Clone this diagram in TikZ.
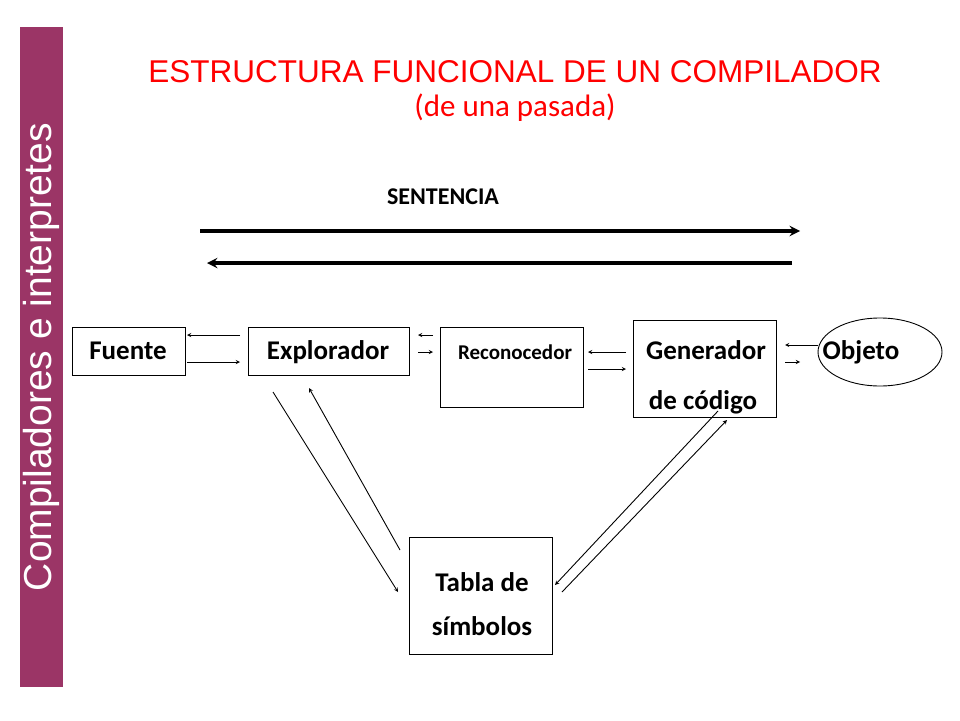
\documentclass[tikz,border=0pt]{standalone}
\usepackage{fontspec}
\setmainfont{Carlito}
\newfontfamily\arialfont{Liberation Sans}
\begin{document}
\begin{tikzpicture}[x=1pt,y=-1pt,
	box/.style={draw,line width=0.9pt},
	lbl/.style={anchor=base,font=\fontsize{27}{30}\selectfont\bfseries},
	arr/.style={->,>=stealth,line width=0.9pt}]
	\useasboundingbox (0,0) rectangle (960,720);

	\fill[fill={rgb,255:red,155;green,53;blue,102}] (20,27) rectangle (63,687);
	\node[rotate=90,text=white,font=\arialfont\fontsize{39}{44}\selectfont] (side) at (41.5,357) {Compiladores e interpretes};

	\node[text=red,font=\arialfont\fontsize{31.5}{36}\selectfont] (title) at (515,72) {ESTRUCTURA FUNCIONAL DE UN COMPILADOR};
	\node[text=red,font=\fontsize{31}{36}\selectfont] (sub) at (515,108) {(de una pasada)};

	\node[font=\fontsize{24}{28}\selectfont\bfseries] (sent) at (443,197) {SENTENCIA};
	\coordinate (s1) at (200,231); \coordinate (s2) at (800,231);
	\coordinate (s3) at (792,263); \coordinate (s4) at (207,263);
	\draw[arr,line width=3.5pt] (s1) -- (s2);
	\draw[arr,line width=3.5pt] (s3) -- (s4);

	% bloques
	\draw[box] (72,327) rectangle (185,375);
	\node[lbl] (fuente) at (128,359) {Fuente};
	\draw[box] (248,327) rectangle (409,375);
	\node[lbl] (explo) at (328,359) {Explorador};
	\draw[box] (440,327) rectangle (583,407);
	\node[lbl,font=\fontsize{21}{24}\selectfont\bfseries] (recon) at (515,359) {Reconocedor};
	\draw[box] (633,320) rectangle (776,417);
	\node[lbl] (gen) at (706,359) {Generador};
	\node[lbl] (gen2) at (703,409) {de código};
	\draw[box] (880,352) ellipse [x radius=62,y radius=34];
	\node[lbl] (obj) at (861,359) {Objeto};
	\draw[box] (409,537) rectangle (552,654);
	\node[lbl] (tabla) at (482,591) {Tabla de};
	\node[lbl] (simb) at (482,635) {símbolos};

	% flechas
	\draw[arr] (240,335) -- (187,335);
	\draw[arr] (187,362) -- (240,362);
	\draw[arr] (433,335) -- (418,335);
	\draw[arr] (418,352) -- (433,352);
	\draw[arr] (626,352) -- (588,352);
	\draw[arr] (588,369) -- (626,369);
	\draw[arr] (818,345) -- (785,345);
	\draw[arr] (785,362) -- (800,362);

	\draw[arr] (273,392) -- (398,592);
	\draw[arr] (400,550) -- (309,388);
	\draw[arr] (718,411) -- (555,585);
	\draw[arr] (562,592) -- (727,420);
\end{tikzpicture}
\end{document}
